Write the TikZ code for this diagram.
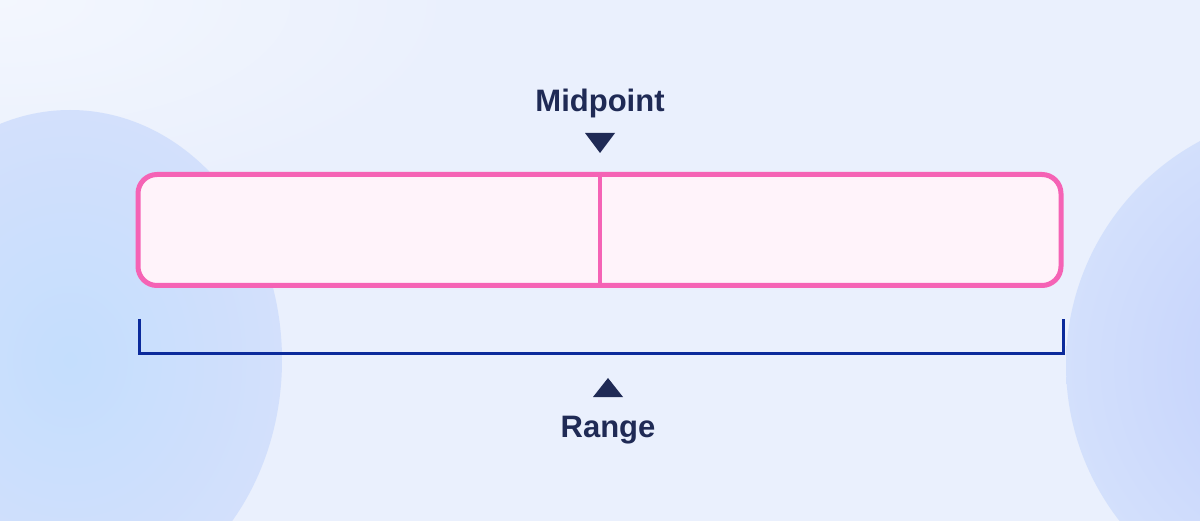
\documentclass[tikz,border=0pt]{standalone}
\usepackage{fontspec}
\setmainfont{Liberation Sans}
\usetikzlibrary{positioning}

\definecolor{bgcol}{HTML}{EAF0FD}
\definecolor{blobA}{HTML}{C4DEFD}
\definecolor{blobB}{HTML}{CFDDFC}
\definecolor{blobC}{HTML}{C0CEFB}
\definecolor{pinkline}{HTML}{F563B5}
\definecolor{pinkfill}{HTML}{FFF3FA}
\definecolor{navy}{HTML}{1F2A55}
\definecolor{rangeblue}{HTML}{0B2A9B}

\tikzset{
  lbl/.style = {font=\fontsize{31}{31}\selectfont\bfseries, text=navy, inner sep=0pt, anchor=base},
  barbox/.style = {draw=pinkline, fill=pinkfill, line width=5pt, rounded corners=19pt,
                   minimum width=923pt, minimum height=111pt, inner sep=0pt},
  bracket/.style = {draw=rangeblue, line width=3pt},
  marker/.style = {fill=navy}
}

\begin{document}
\begin{tikzpicture}[x=1pt, y=-1pt]
\useasboundingbox (0,0) rectangle (1200,521);
% background and soft blobs
\fill[bgcol] (0,0) rectangle (1200,521);
\begin{scope}
\clip (0,0) rectangle (1200,521);
\shade[inner color=white!45!bgcol, outer color=bgcol] (0,0) ellipse (460 and 200);
\shade[inner color=blobA, outer color=blobB!85!bgcol] (70,360) ellipse (212 and 250);
\shade[inner color=blobC, outer color=blobB!85!bgcol] (1320,365) circle (254);
\end{scope}

% the bar with its midpoint
\node (bar) [barbox] at (599.5,230) {};
\draw[pinkline, line width=4pt] (bar.north) -- (bar.south);

\node (mid) [lbl] at (600,112) {Midpoint};
\coordinate (midtip) at (600,153);
\fill[marker] (midtip) -- ++(-15,-20) -- ++(30,0) -- cycle;

% range bracket
\coordinate (rl) at (139,319);
\coordinate (rr) at (1063,319);
\draw[bracket] (rl) -- ++(0,35) -| (rr);

\coordinate (rangetip) at (608,378);
\fill[marker] (rangetip) -- ++(-15,19) -- ++(30,0) -- cycle;
\node (range) [lbl] at (608,437) {Range};
\end{tikzpicture}
\end{document}
